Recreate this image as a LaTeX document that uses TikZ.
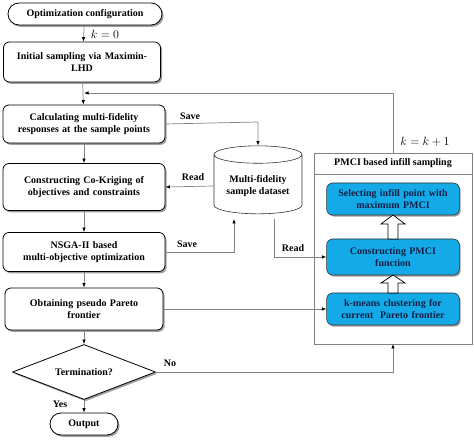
\documentclass[tikz,border=0pt]{standalone}
\usepackage{fontspec}
\setmainfont{Liberation Serif}
\usetikzlibrary{shapes.geometric,shadows,arrows.meta}
\definecolor{boxblue}{RGB}{20,170,232}
\definecolor{navytext}{RGB}{16,32,70}
\definecolor{linegray}{RGB}{130,130,130}
\tikzset{
  stepbox/.style={draw=black, line width=0.8pt, fill=white, rounded corners=6pt, align=center,
    text width=150pt, minimum width=162pt, font=\bfseries\fontsize{10}{12}\selectfont,
    drop shadow={shadow xshift=1.6pt, shadow yshift=-1.8pt, fill=black!75}},
  pillbox/.style={stepbox, rounded corners=11pt, minimum height=22pt, text width={}, inner sep=2pt},
  bluebox/.style={draw=black!80, line width=0.6pt, fill=boxblue, rounded corners=6pt, align=center,
    text width=126pt, minimum width=132pt, text=navytext, font=\bfseries\fontsize{10}{12}\selectfont,
    drop shadow={shadow xshift=1.4pt, shadow yshift=-1.6pt, fill=black!75}},
  flow/.style={draw=linegray, line width=0.7pt, -{Latex[length=4.5pt,width=3.5pt,color=black]}},
  lbl/.style={font=\bfseries\fontsize{10}{12}\selectfont},
  hollow/.style={draw=black, line width=0.7pt, fill=white}
}
\begin{document}
\begin{tikzpicture}[x=1pt,y=-1pt]
    \useasboundingbox (0,0) rectangle (474,443);

    % main column
    \node[pillbox, minimum width=154pt] (conf) at (85,14) {Optimization configuration};
    \node[stepbox, minimum width=157pt, minimum height=40pt] (init) at (82,62) {Initial sampling via Maximin-\\LHD};
    \node[stepbox, minimum height=38pt] (resp) at (84,124) {Calculating multi-fidelity\\responses at the sample points};
    \node[stepbox, minimum height=47pt] (krig) at (84,187) {Constructing Co-Kriging of\\objectives and constraints};
    \node[stepbox, minimum height=39pt] (nsga) at (84,252) {NSGA-II based\\multi-objective optimization};
    \node[stepbox, minimum width=158pt, minimum height=42pt] (pare) at (84,309) {Obtaining pseudo Pareto\\frontier};
    \node[diamond, draw=black, line width=0.8pt, fill=white, aspect=2.6, minimum width=143pt, minimum height=55pt,
        inner sep=0pt, lbl, drop shadow={shadow xshift=1.6pt, shadow yshift=-1.8pt, fill=black!75}] (term) at (84,372) {Termination?};
    \node[pillbox, minimum width=68pt] (outp) at (84,424) {Output};

    % dataset
    \node[cylinder, shape border rotate=90, draw=black!80, line width=0.6pt, fill=white, aspect=0.25,
        minimum width=88pt, minimum height=68pt, align=center, lbl] (data) at (258,186) {Multi-fidelity\\sample dataset};

    % PMCI block
    \draw[linegray, line width=0.7pt] (314,153) rectangle (472,344);
    \draw[linegray, line width=0.7pt] (314,174) -- (472,174);
    \node[lbl] (ptit) at (393,163.5) {PMCI based infill sampling};
    \coordinate (ptop) at (393,153);
    \coordinate (pbot) at (393,344);
    \node[bluebox, minimum height=32pt] (sele) at (393,199) {Selecting infill point with\\maximum PMCI};
    \node[bluebox, minimum height=36pt] (pmcf) at (393,257) {Constructing PMCI\\function};
    \node[bluebox, minimum height=32pt] (kmea) at (393,309) {k-means clustering for\\current~ Pareto frontier};
    \foreach \yb/\ym/\yt in {239/224/215, 293/283/275}
        \draw[hollow] (388,\yb) -- (388,\ym) -- (381,\ym) -- (393,\yt) -- (405,\ym) -- (398,\ym) -- (398,\yb) -- cycle;

    \draw[flow] (conf) -- (init);
    \draw[flow] (init) -- (resp);
    \draw[flow] (resp) -- (krig);
    \draw[flow] (krig) -- (nsga);
    \draw[flow] (nsga) -- (pare);
    \draw[flow] (pare) -- (term);
    \draw[flow] (term) -- (outp);

    \draw[flow] (resp.east) -- (258,122) -- (data.top);
    \draw[flow] (data.west) -- (krig.east);
    \draw[flow] (nsga.east) -- (234,252) -- (234,219);
    \draw[flow] (274,219) |- (pmcf.west);
    \draw[flow] (pare.east) -- (kmea.west);
    \draw[flow] (term.east) -- (393,372) -- (pbot);
    \coordinate (join) at (84,93);
    \draw[flow] (ptop) -- (393,93) -- (join);

    \node[font=\fontsize{12}{14}\selectfont] at (105,34) {$k=0$};
    \node[font=\fontsize{12}{14}\selectfont] at (425,142) {$k=k+1$};
    \node[lbl] at (190,116) {Save};
    \node[lbl] at (193,177) {Read};
    \node[lbl] at (187,244) {Save};
    \node[lbl] at (293,248) {Read};
    \node[lbl] at (170,363) {No};
    \node[lbl] at (60,404) {Yes};
\end{tikzpicture}
\end{document}
